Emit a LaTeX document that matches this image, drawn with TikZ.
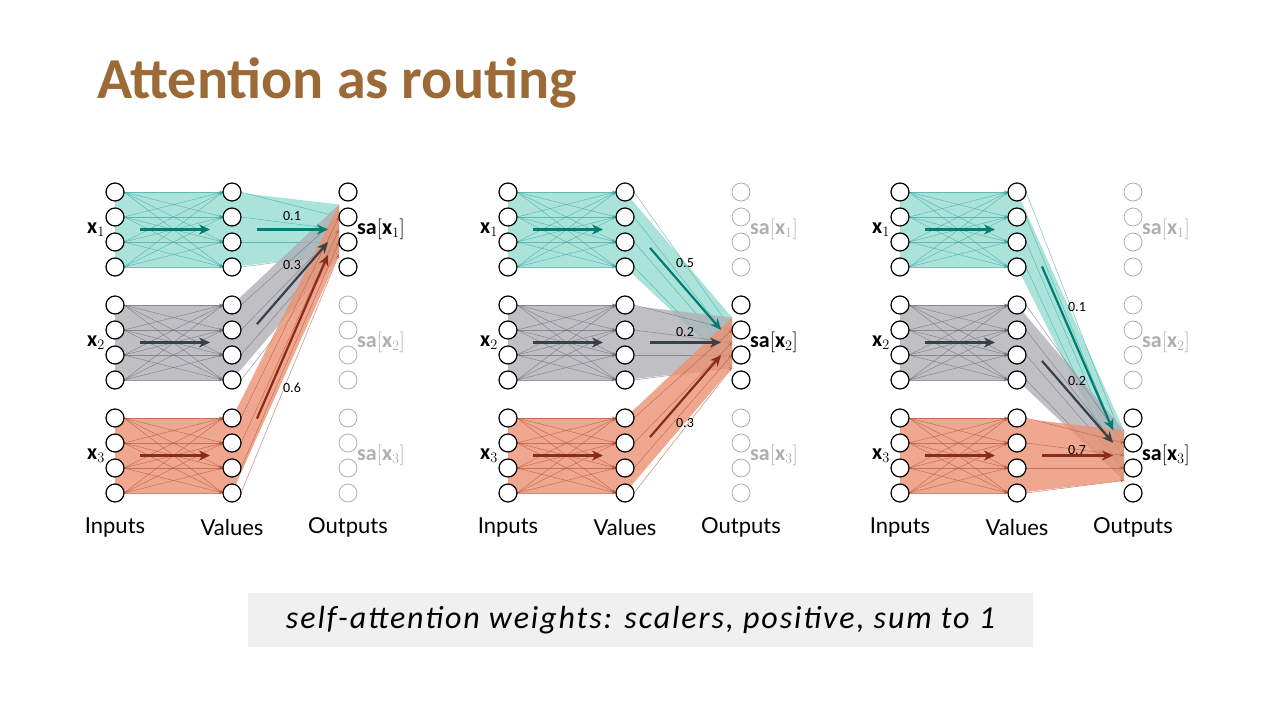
\documentclass[tikz,border=0pt]{standalone}
\usepackage{fontspec}
\setmainfont{Carlito}
\newfontfamily\labfont{Lato}
\usetikzlibrary{arrows.meta}
\definecolor{titlec}{RGB}{156,106,54}
\definecolor{capbg}{RGB}{240,240,240}
\definecolor{fA}{RGB}{150,220,210}\definecolor{aA}{RGB}{0,125,115}
\definecolor{fB}{RGB}{175,175,182}\definecolor{aB}{RGB}{55,65,72}
\definecolor{fC}{RGB}{235,145,115}\definecolor{aC}{RGB}{135,45,25}
\definecolor{lA}{RGB}{60,170,160}\definecolor{lB}{RGB}{110,110,118}\definecolor{lC}{RGB}{185,85,55}
\definecolor{inact}{RGB}{175,175,175}
\tikzset{
 circ/.style={circle,draw=black,line width=1.2pt,fill=white,minimum size=18pt,inner sep=0pt},
 circoff/.style={circle,draw=inact,line width=0.8pt,fill=white,minimum size=18pt,inner sep=0pt},
 thinl/.style={line width=0.5pt,opacity=0.7,-{Stealth[length=4pt,width=3pt]}},
 bigarr/.style={line width=2.2pt,-{Stealth[length=11pt,width=10pt]}},
 band/.style={opacity=0.8},
 lab/.style={font=\fontsize{14}{14}\selectfont},
 axl/.style={font=\labfont\fontsize{22}{22}\selectfont},
}
\newcommand\yy[2]{\pgfmathsetmacro\ycur{192+113*(#1-1)+25*(#2-1)}}
% #1 dx, #2 target group, #3 active which: 1,2,3
\newcommand\panel[8]{%
 \pgfmathsetmacro\ix{115+#1}\pgfmathsetmacro\vx{232+#1}\pgfmathsetmacro\ox{348+#1}
 \pgfmathsetmacro\oc{192+113*(#2-1)+37.5}
 % input->value blocks
 \foreach \g/\fc/\lc/\ac in {1/fA/lA/aA,2/fB/lB/aB,3/fC/lC/aC}{
  \pgfmathsetmacro\yt{192+113*(\g-1)}\pgfmathsetmacro\yb{\yt+75}\pgfmathsetmacro\yc{\yt+37.5}
  \fill[\fc,band] (\ix,\yt) rectangle (\vx,\yb);
  \foreach \k in {1,...,4}{\foreach \l in {1,...,4}{
   \draw[thinl,\lc] (\ix+9,\yt+25*\k-25) -- (\vx-9,\yt+25*\l-25);}}
  \draw[bigarr,\ac] (\ix+25,\yc) -- (\vx-22,\yc);
 }
 % routing bands
 \foreach \g/\fc/\lc in {1/fA/lA,2/fB/lB,3/fC/lC}{
  \pgfmathsetmacro\yt{192+113*(\g-1)}\pgfmathsetmacro\yb{\yt+75}
  \fill[\fc,band] (\vx,\yt) -- (\ox-9,\oc-25) -- (\ox-9,\oc+25) -- (\vx,\yb) -- cycle;
  \foreach \k in {1,...,4}{
   \draw[thinl,\lc] (\vx+9,\yt+25*\k-25) -- (\ox-9,\oc-25+\k*12.5);}
 }
 \foreach \g/\ac in {1/aA,2/aB,3/aC}{
  \pgfmathsetmacro\yc{192+113*(\g-1)+37.5}
  \pgfmathsetmacro\ya{\yc+(16/98)*(\oc-\yc)}\pgfmathsetmacro\yz{\yc+(87/98)*(\oc-\yc)}
  \draw[bigarr,\ac] (\vx+25,\ya) -- (\ox-20,\yz);
 }
 \node[lab] (la#1) at (\vx+60,#3) {#4};
 \node[lab] (lb#1) at (\vx+60,#5) {#6};
 \node[lab] (lc#1) at (\vx+60,#7) {#8};
 % circles
 \foreach \g in {1,2,3}{\foreach \k in {1,...,4}{
  \pgfmathsetmacro\yv{192+113*(\g-1)+25*(\k-1)}
  \node[circ] (i#1-\g-\k) at (\ix,\yv) {};
  \node[circ] (v#1-\g-\k) at (\vx,\yv) {};
  \ifnum\g=#2 \node[circ] (o#1-\g-\k) at (\ox,\yv) {};
  \else \node[circoff] (o#1-\g-\k) at (\ox,\yv) {};\fi
 }
  \pgfmathsetmacro\yc{192+113*(\g-1)+37.5}
  \node[anchor=east,font=\fontsize{22}{22}\selectfont,inner sep=0pt] (xl#1-\g) at (\ix-10,\yc) {$\mathbf{x}_{\g}$};
  \ifnum\g=#2
  \node[anchor=west,font=\fontsize{22}{22}\selectfont,inner sep=0pt] (sl#1-\g) at (\ox+9,\yc) {$\mathbf{sa}[\mathbf{x}_{\g}]$};
  \else
  \node[anchor=west,font=\fontsize{22}{22}\selectfont,inner sep=0pt,text=inact] (sl#1-\g) at (\ox+9,\yc) {$\mathbf{sa}[\mathbf{x}_{\g}]$};
  \fi
 }
 \node[axl] (ti#1) at (\ix,527) {Inputs};
 \node[axl] (tv#1) at (\vx,527) {Values};
 \node[axl] (to#1) at (\ox,527) {Outputs};
}
\begin{document}
\begin{tikzpicture}[x=1pt,y=-1pt]
\useasboundingbox (0,0) rectangle (1280,720);
\fill[white] (0,0) rectangle (1280,720);
\node[anchor=base west,text=titlec,font=\bfseries\fontsize{58}{58}\selectfont,inner sep=0pt] (title) at (97,98) {Attention as routing};
\panel{0}{1}{216}{0.1}{265}{0.3}{388}{0.6}
\panel{393}{2}{263}{0.5}{332}{0.2}{423}{0.3}
\panel{785}{3}{307}{0.1}{381}{0.2}{450}{0.7}
\fill[capbg] (248,593) rectangle (1033,647);
\node[font=\itshape\addfontfeature{LetterSpace=6}\fontsize{32}{32}\selectfont] (cap) at (640.5,620) {self-attention weights: scalers, positive, sum to 1};
\end{tikzpicture}
\end{document}
